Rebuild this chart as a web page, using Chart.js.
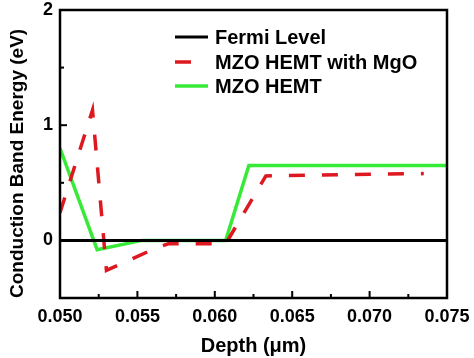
<!DOCTYPE html>
<html>
<head>
<meta charset="utf-8">
<script src="https://cdn.jsdelivr.net/npm/chart.js@4.4.1/dist/chart.umd.min.js"></script>
<style>
  html, body { margin: 0; padding: 0; background: #fff; }
  #wrap { width: 474px; height: 358px; position: relative; }
</style>
</head>
<body>
<div id="wrap"><canvas id="chart"></canvas></div>
<script>
  "use strict";

  // depth in um, energy in eV
  const fermiX = [0.050, 0.075];
  const fermiY = [0, 0];
  const mgoX = [0.0500, 0.0521, 0.0530, 0.0563, 0.0570, 0.0607, 0.0633, 0.0735];
  const mgoY = [0.24, 1.13, -0.26, -0.06, -0.03, -0.03, 0.56, 0.58];
  const mzoX = [0.0500, 0.0524, 0.0553, 0.0607, 0.0622, 0.0750];
  const mzoY = [0.80, -0.08, 0.0, 0.0, 0.65, 0.65];
  const seriesNames = ["Fermi Level", "MZO HEMT with MgO", "MZO HEMT"];

  const FONT = "'Liberation Sans', Arial, sans-serif";

  function pts(xs, ys) {
    return xs.map((x, i) => ({ x: x, y: ys[i] }));
  }

  // inward ticks, full frame and in-plot legend
  const framePlugin = {
    id: "frame",
    afterDatasetsDraw(chart) {
      const ctx = chart.ctx;
      const a = chart.chartArea;
      const xs = chart.scales.x;
      const ys = chart.scales.y;
      ctx.save();
      ctx.strokeStyle = "#000";
      ctx.lineWidth = 2;
      xs.ticks.forEach((t) => {
        const px = xs.getPixelForValue(t.value);
        const len = t.label ? 7 : 4;
        ctx.beginPath();
        ctx.moveTo(px, a.bottom);
        ctx.lineTo(px, a.bottom - len);
        ctx.stroke();
      });
      ys.ticks.forEach((t) => {
        const py = ys.getPixelForValue(t.value);
        const len = t.label ? 7 : 4;
        ctx.beginPath();
        ctx.moveTo(a.left, py);
        ctx.lineTo(a.left + len, py);
        ctx.stroke();
      });
      ctx.lineWidth = 2.5;
      ctx.strokeRect(a.left, a.top, a.right - a.left, a.bottom - a.top);

      // legend
      const rows = [37, 62, 86];
      ctx.font = "bold 20px " + FONT;
      ctx.textBaseline = "middle";
      ctx.fillStyle = "#000";
      chart.data.datasets.forEach((ds, i) => {
        const y = rows[i];
        ctx.beginPath();
        ctx.strokeStyle = ds.borderColor;
        ctx.lineWidth = ds.borderWidth;
        ctx.setLineDash(ds.borderDash || []);
        ctx.moveTo(175, y);
        ctx.lineTo(208, y);
        ctx.stroke();
        ctx.setLineDash([]);
        ctx.fillText(ds.label, 215, y + 1);
      });
      ctx.restore();
    },
  };

  new Chart(document.getElementById("chart"), {
    type: "line",
    data: {
      datasets: [
        {
          label: seriesNames[0],
          data: pts(fermiX, fermiY),
          borderColor: "#000000",
          borderWidth: 3,
          pointRadius: 0,
        },
        {
          label: seriesNames[1],
          data: pts(mgoX, mgoY),
          borderColor: "#de1820",
          borderWidth: 3.5,
          borderDash: [16, 17],
          pointRadius: 0,
        },
        {
          label: seriesNames[2],
          data: pts(mzoX, mzoY),
          borderColor: "#38ea38",
          borderWidth: 3.5,
          pointRadius: 0,
        },
      ],
    },
    options: {
      responsive: true,
      maintainAspectRatio: false,
      animation: false,
      layout: { padding: { top: 10, right: 27, left: 0, bottom: 0 } },
      plugins: { legend: { display: false }, tooltip: { enabled: false } },
      scales: {
        x: {
          type: "linear",
          min: 0.050,
          max: 0.075,
          afterFit: (s) => {
            s.height = 60;
            s.paddingLeft = 0;
            s.paddingRight = 0;
          },
          grid: { display: false, drawTicks: false },
          border: { display: false },
          ticks: {
            stepSize: 0.0025,
            padding: 8,
            maxRotation: 0,
            minRotation: 0,
            autoSkip: false,
            color: "#000",
            font: { family: FONT, size: 18, weight: "bold" },
            callback: (v) => {
              const k = Math.round(v * 10000);
              return k % 50 === 0 ? (k / 10000).toFixed(3) : "";
            },
          },
          title: {
            display: true,
            text: "Depth (\u03bcm)",
            color: "#000",
            font: { family: FONT, size: 20, weight: "bold" },
            padding: { top: 4, bottom: 0 },
          },
        },
        y: {
          min: -0.5,
          max: 2,
          afterFit: (s) => {
            s.width = 60;
            s.paddingTop = 0;
            s.paddingBottom = 0;
          },
          grid: { display: false, drawTicks: false },
          border: { display: false },
          ticks: {
            stepSize: 0.5,
            padding: 7,
            autoSkip: false,
            color: "#000",
            font: { family: FONT, size: 18, weight: "bold" },
            callback: (v) => (Math.abs(v - Math.round(v)) < 1e-9 ? String(Math.round(v)) : ""),
          },
          title: {
            display: true,
            align: "start",
            text: "Conduction Band Energy (eV)",
            color: "#000",
            font: { family: FONT, size: 19, weight: "bold" },
            padding: { top: 6, bottom: 2 },
          },
        },
      },
    },
    plugins: [framePlugin],
  });
</script>
</body>
</html>
